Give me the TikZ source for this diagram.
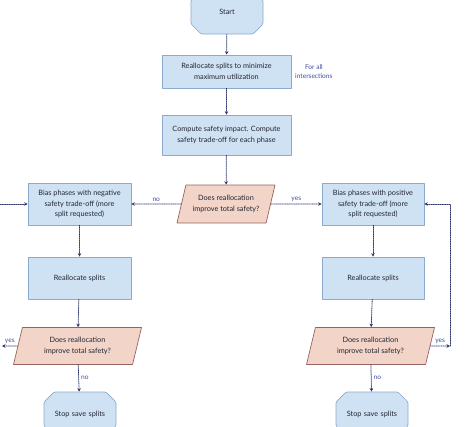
\documentclass[tikz,border=0pt]{standalone}
\usepackage{fontspec}
\setmainfont{Lato}
\usetikzlibrary{shapes.geometric,shapes.misc,arrows.meta}
\definecolor{boxfill}{RGB}{207,226,243}
\definecolor{boxline}{RGB}{140,170,205}
\definecolor{decfill}{RGB}{242,212,200}
\definecolor{decline}{RGB}{150,100,95}
\definecolor{arrowcol}{RGB}{45,55,110}
\definecolor{labelcol}{RGB}{60,75,165}
\definecolor{txtcol}{RGB}{35,38,50}
\tikzset{
  box/.style={draw=boxline, fill=boxfill, text=txtcol, align=center, inner sep=1pt, line width=0.7pt},
  term/.style={box, chamfered rectangle, chamfered rectangle xsep=5pt, chamfered rectangle ysep=5pt, text width=60pt, text height=18.6pt, text depth=13.4pt, inner sep=1pt, rounded corners=1.5pt},
  proc/.style={box, minimum height=33pt},
  dec/.style={box, draw=decline, fill=decfill, trapezium, trapezium left angle=65, trapezium right angle=115, trapezium stretches body, minimum height=38pt},
  flow/.style={->, densely dotted, draw=arrowcol, line width=0.8pt},
  lbl/.style={text=labelcol, inner sep=2pt, font=\fontsize{6.6}{9}\selectfont}
}
\begin{document}
\begin{tikzpicture}[x=1pt,y=-1pt,>={Stealth[length=3.5pt,width=3.5pt]}, font=\fontsize{7.3}{10.5}\selectfont, line join=round, line cap=round]
\useasboundingbox (0,0) rectangle (474,426);
\clip (0,0) rectangle (474,426);
% middle column
\node[term] (start) at (227,12) {Start};
\node[proc, minimum width=129pt] (realloc) at (226.5,71.5) {Reallocate splits to minimize\\maximum utilization};
\node[lbl, anchor=west, align=center] (forall) at (293,71.5) {For all\\intersections};
\node[proc, minimum width=129pt, minimum height=40pt] (compute) at (226.5,135) {Compute safety impact. Compute\\safety trade-off for each phase};
\node[dec, minimum width=98pt] (dec) at (226,204) {Does reallocation\\improve total safety?};
% left column
\node[proc, minimum width=103pt, minimum height=42pt] (biasL) at (79.5,204) {Bias phases with negative\\safety trade-off (more\\split requested)};
\node[proc, minimum width=103pt, minimum height=42pt] (reallocL) at (79.5,278) {Reallocate splits};
\node[dec, minimum width=128pt, minimum height=37pt] (decL) at (77.5,346) {Does reallocation\\improve total safety?};
\node[term] (stopL) at (80,414) {Stop save splits};
% right column
\node[proc, minimum width=102pt, minimum height=42pt] (biasR) at (373,204) {Bias phases with positive\\safety trade-off (more\\split requested)};
\node[proc, minimum width=102pt, minimum height=42pt] (reallocR) at (373,278) {Reallocate splits};
\node[dec, minimum width=128pt, minimum height=37pt] (decR) at (370.5,346) {Does reallocation\\improve total safety?};
\node[term] (stopR) at (372,414) {Stop save splits};
\coordinate (inL) at (0,204);
\coordinate (outL) at (2,346);
\coordinate (loopR) at (450,346);
% connectors
\draw[flow] (start) -- (realloc);
\draw[flow] (realloc) -- (compute);
\draw[flow] (compute) -- (dec);
\draw[flow] (dec) -- node[lbl, above]{no} (biasL);
\draw[flow] (dec) -- node[lbl, above]{yes} (biasR);
\draw[flow] (inL) -- (biasL);
\draw[flow] (biasL) -- (reallocL);
\draw[flow] (reallocL) -- (decL);
\draw[flow] (decL) -- node[lbl, right]{no} (stopL);
\draw[flow] (decL) -- node[lbl, above]{yes} (outL);
\draw[flow] (biasR) -- (reallocR);
\draw[flow] (reallocR) -- (decR);
\draw[flow] (decR) -- node[lbl, right]{no} (stopR);
\draw[flow] (decR) -- node[lbl, above]{yes} (loopR);
\draw[flow] (loopR) |- (biasR.east);
\end{tikzpicture}
\end{document}
